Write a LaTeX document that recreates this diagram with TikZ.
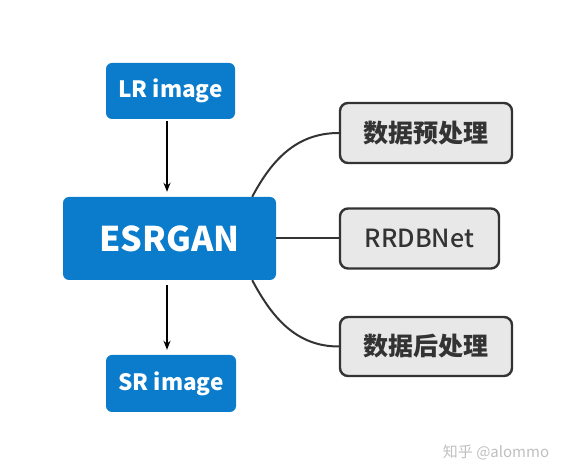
\documentclass[tikz,border=0pt]{standalone}
\usepackage{fontspec}
\setmainfont{Noto Sans CJK SC}
\newfontfamily\medfont{Noto Sans CJK SC Medium}
\usetikzlibrary{arrows.meta,positioning}
\definecolor{esrblue}{HTML}{0A7CCB}
\definecolor{boxgrey}{HTML}{E8E8E8}
\definecolor{linegrey}{HTML}{333333}
\tikzset{
  bluebox/.style={fill=esrblue, rounded corners=6pt, text=white, font=\bfseries},
  greybox/.style={draw=linegrey, line width=2.4pt, fill=boxgrey, rounded corners=8pt, text=linegrey},
  branch/.style={draw=linegrey, line width=2pt},
}

\begin{document}
\begin{tikzpicture}[x=1pt, y=1pt, >={Stealth[length=9pt,width=7pt]}]
  \useasboundingbox (0,0) rectangle (576,476);

  % Main column
  \node (lr) [bluebox, minimum width=129pt, minimum height=56pt, font=\bfseries\fontsize{22.5}{26}\selectfont] at (170.5,385) {LR image};
  \node (esr) [bluebox, minimum width=213pt, minimum height=83pt, font=\bfseries\fontsize{34}{40}\selectfont] at (169.5,237.5) {ESRGAN};
  \node (sr) [bluebox, minimum width=130pt, minimum height=57pt, font=\bfseries\fontsize{22.5}{26}\selectfont] at (171,92.5) {SR image};

  % Branches
  \node (pre) [greybox, minimum width=172pt, minimum height=60pt, font=\bfseries\fontsize{25}{29}\selectfont] at (426,343) {数据预处理};
  \node (net) [greybox, minimum width=159pt, minimum height=60pt, font=\medfont\fontsize{25}{29}\selectfont] at (419.5,237.5) {RRDBNet};
  \node (post) [greybox, minimum width=172pt, minimum height=59pt, font=\bfseries\fontsize{25}{29}\selectfont] at (426,129.5) {数据后处理};

  % Arrows
  \draw[->, line width=1.8pt, shorten <=2pt, shorten >=5pt] ([xshift=-3.5pt]lr.south) -- ([xshift=-2.5pt]esr.north);
  \draw[->, line width=1.8pt, shorten <=5pt, shorten >=5pt] ([xshift=-2.5pt]esr.south) -- ([xshift=-4pt]sr.north);

  % Connectors
  \draw[branch] ([xshift=-24pt]esr.north east) to[out=62, in=180] (pre.west);
  \draw[branch] (esr.east) -- (net.west);
  \draw[branch] ([xshift=-24pt]esr.south east) to[out=-62, in=180] (post.west);

  % Watermark
  \node (mark) [text=black!25, font=\fontsize{15}{18}\selectfont] at (496,24) {知乎 @alommo};
\end{tikzpicture}
\end{document}
